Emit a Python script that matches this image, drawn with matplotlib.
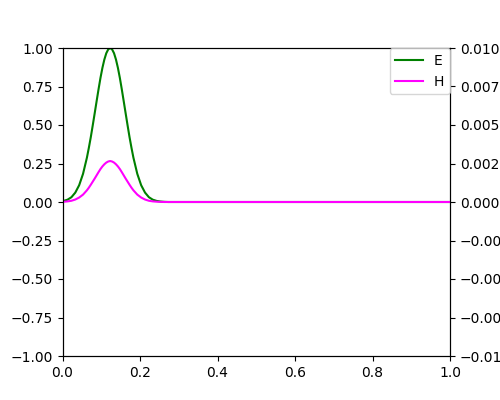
import matplotlib
matplotlib.use('Agg')
import matplotlib.pyplot as plt

# %% Data
x_pts = [0.000, 0.013, 0.023, 0.033, 0.043, 0.053, 0.063, 0.068, 0.073,
         0.078, 0.083, 0.088, 0.093, 0.098, 0.103, 0.108, 0.113, 0.118,
         0.123, 0.128, 0.133, 0.138, 0.143, 0.148, 0.153, 0.158, 0.163,
         0.168, 0.173, 0.178, 0.183, 0.193, 0.203, 0.213, 0.223, 0.233,
         0.243, 0.253, 0.263, 0.273, 0.300, 0.500, 0.800, 1.000]

e_field = [0.005, 0.015, 0.031, 0.061, 0.109, 0.183, 0.288, 0.352, 0.421,
           0.497, 0.575, 0.654, 0.732, 0.806, 0.871, 0.925, 0.966, 0.991,
           1.000, 0.991, 0.966, 0.925, 0.871, 0.806, 0.732, 0.654, 0.575,
           0.497, 0.421, 0.352, 0.288, 0.183, 0.109, 0.061, 0.031, 0.015,
           0.007, 0.003, 0.001, 0.000, 0.000, 0.000, 0.000, 0.000]

h_field = [0.00001, 0.00004, 0.00008, 0.00016, 0.00029, 0.00048, 0.00076,
           0.00093, 0.00112, 0.00132, 0.00152, 0.00173, 0.00194, 0.00214,
           0.00231, 0.00245, 0.00256, 0.00263, 0.00266, 0.00263, 0.00256,
           0.00245, 0.00231, 0.00214, 0.00194, 0.00173, 0.00152, 0.00132,
           0.00112, 0.00093, 0.00076, 0.00048, 0.00029, 0.00016, 0.00008,
           0.00004, 0.00002, 0.00001, 0.0, 0.0, 0.0, 0.0, 0.0, 0.0]

# %% Plot
fig, ax = plt.subplots(figsize=(5, 4), dpi=100)
ax2 = ax.twinx()

line_e, = ax.plot(x_pts, e_field, color='green', label='E')
line_h, = ax2.plot(x_pts, h_field, color='magenta', label='H')

ax.set_xlim(0, 1)
ax.set_ylim(-1, 1)
ax2.set_ylim(-0.01, 0.01)

ax2.legend([line_e, line_h], ['E', 'H'], loc='upper right', borderaxespad=0)

plt.savefig('out.png')
plt.close(fig)
